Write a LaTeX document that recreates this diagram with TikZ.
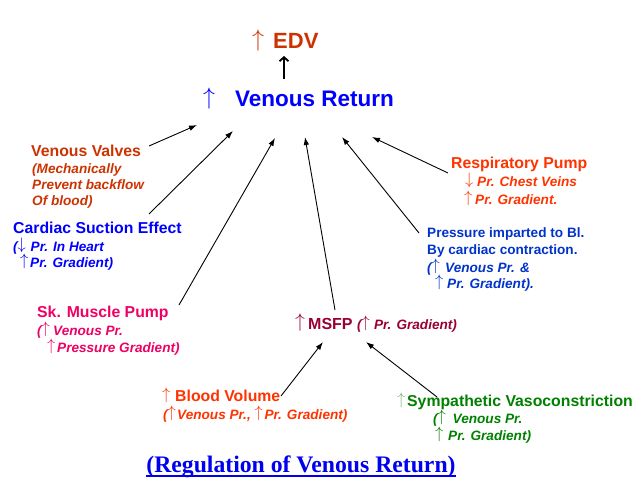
\documentclass[tikz,border=0pt]{standalone}
\usepackage{fontspec}
\usepackage{graphicx}
\setmainfont{Liberation Sans}
\newfontfamily\serifbf{Liberation Serif}
\usetikzlibrary{arrows.meta}
\newcommand\ua[1]{\makebox[#1][l]{\raisebox{0.08em}{\scalebox{1.15}{$\uparrow$}}}}
\newcommand\da[1]{\makebox[#1][l]{\raisebox{0.08em}{\scalebox{1.15}{$\downarrow$}}}}
\definecolor{cEDV}{RGB}{204,51,0}
\definecolor{cVV}{RGB}{204,51,0}
\definecolor{cBlue}{RGB}{0,0,255}
\definecolor{cPI}{RGB}{0,51,204}
\definecolor{cRP}{RGB}{255,51,0}
\definecolor{cSK}{RGB}{240,0,100}
\definecolor{cMS}{RGB}{153,0,51}
\definecolor{cGreen}{RGB}{0,128,0}
\definecolor{cGreenL}{RGB}{120,180,120}
\definecolor{cTitle}{RGB}{0,0,240}
\begin{document}
\begin{tikzpicture}[x=1pt,y=-1pt,
  txt/.style={inner sep=0pt, anchor=base west},
  ttl/.style={txt, font=\fontsize{15.8}{18}\selectfont\bfseries},
  sub/.style={txt, font=\fontsize{13.6}{16}\selectfont\bfseries\itshape},
  plain/.style={txt, font=\fontsize{13.6}{16}\selectfont\bfseries},
  con/.style={-{Latex[length=8pt,width=5.5pt]}, line width=0.9pt, black}]
\useasboundingbox (0,0) rectangle (641,490);
\fill[white] (0,0) rectangle (641,490);

% top
\node[txt, font=\fontsize{22}{26}\selectfont\bfseries, text=cEDV] (edv) at (252,48) {\ua{21pt}EDV};
\node[txt, font=\fontsize{22.5}{26}\selectfont\bfseries, text=cBlue] (vr) at (203,106) {\ua{32pt}Venous Return};

% Venous valves
\node[ttl, text=cVV] (vv) at (31,156) {Venous Valves};
\node[sub, text=cVV] (vv1) at (32,173) {(Mechanically};
\node[sub, text=cVV] (vv2) at (32,189) {Prevent backflow};
\node[sub, text=cVV] (vv3) at (32,205) {Of blood)};

% Cardiac suction
\node[ttl, text=cBlue] (cs) at (13,233) {Cardiac Suction Effect};
\node[sub, text=cBlue] (cs1) at (13,251) {(\da{13pt}Pr. In Heart};
\node[sub, text=cBlue] (cs2) at (20,267) {\ua{10pt}Pr. Gradient)};

% Sk muscle
\node[ttl, text=cSK] (sk) at (37,317) {Sk. Muscle Pump};
\node[sub, text=cSK] (sk1) at (37,335) {(\ua{11.5pt}Venous Pr.};
\node[sub, text=cSK] (sk2) at (47,352) {\ua{10pt}Pressure Gradient)};

% MSFP
\node[txt, font=\fontsize{16}{19}\selectfont\bfseries, text=cMS] (ms) at (295,329)
  {\ua{13pt}MSFP {\fontsize{13.6}{16}\selectfont\itshape(\ua{12.5pt}Pr. Gradient)}};

% Blood volume
\node[ttl, text=cRP] (bv) at (162,401) {\ua{13pt}Blood Volume};
\node[sub, text=cRP] (bv1) at (163,419) {(\ua{9.5pt}Venous Pr., \ua{10pt}Pr. Gradient)};

% Sympathetic
\node[ttl, text=cGreen] (sy) at (397,406) {\textcolor{cGreenL}{\ua{10pt}}Sympathetic Vasoconstriction};
\node[sub, text=cGreen] (sy1) at (433,423) {(\ua{15pt}Venous Pr.};
\node[sub, text=cGreen] (sy2) at (435,440) {\ua{13pt}Pr. Gradient)};

% Respiratory
\node[ttl, text=cRP] (rp) at (451,168) {Respiratory Pump};
\node[sub, text=cRP] (rp1) at (465,186) {\da{12pt}Pr. Chest Veins};
\node[sub, text=cRP] (rp2) at (464,204) {\ua{11pt}Pr. Gradient.};

% Pressure imparted
\node[plain, text=cPI] (pi) at (427,237) {Pressure imparted to Bl.};
\node[plain, text=cPI] (pi1) at (427,254) {By cardiac contraction.};
\node[sub, text=cPI] (pi2) at (427,272) {(\ua{13.5pt}Venous Pr. \&};
\node[sub, text=cPI] (pi3) at (435,288) {\ua{12pt}Pr. Gradient).};

% title
\node[inner sep=0pt, anchor=base, font=\fontsize{23.7}{28}\selectfont\serifbf\bfseries, text=cTitle] (ti) at (301,472) {(Regulation of Venous Return)};
\draw[cTitle, line width=2.4pt] ([yshift=-4pt]ti.base west) -- ([yshift=-4pt]ti.base east);

% connector end points
\coordinate (vrTop) at (284,79);
\coordinate (edvBot) at (284,56);
\coordinate (vvS) at (149,146);
\coordinate (vvE) at (197,125);
\coordinate (csS) at (149,214);
\coordinate (csE) at (233,131);
\coordinate (skS) at (179,305);
\coordinate (skE) at (275,138);
\coordinate (msS) at (335,310);
\coordinate (msE) at (305,137);
\coordinate (piS) at (419,233);
\coordinate (piE) at (342,137);
\coordinate (rpS) at (448,173);
\coordinate (rpE) at (372,137);
\coordinate (bvS) at (281,396);
\coordinate (bvE) at (323,342);
\coordinate (syS) at (437,397);
\coordinate (syE) at (366,342);

\draw[line width=1.8pt, -{Straight Barb[length=4pt,width=9pt]}] (vrTop) -- (edvBot);
\draw[con] (vvS) -- (vvE);
\draw[con] (csS) -- (csE);
\draw[con] (skS) -- (skE);
\draw[con] (msS) -- (msE);
\draw[con] (piS) -- (piE);
\draw[con] (rpS) -- (rpE);
\draw[con] (bvS) -- (bvE);
\draw[con] (syS) -- (syE);
\end{tikzpicture}
\end{document}
